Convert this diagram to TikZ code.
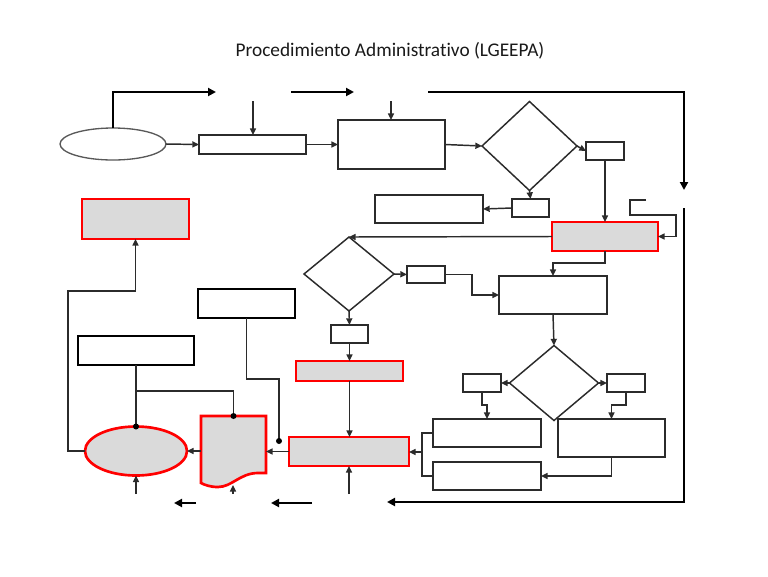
\documentclass[tikz,border=0pt]{standalone}
\usepackage{fontspec}
\setmainfont{Carlito}[Ligatures=NoCommon]
\usetikzlibrary{arrows.meta,shapes.geometric}
\definecolor{boxgray}{HTML}{DADADA}
\definecolor{lineblk}{HTML}{2B2B2B}
\newcommand\mkbox[6]{\node[#1,minimum width={(#4-#2)*0.75pt},minimum height={(#5-#3)*0.75pt}] (#6) at ({(#2+#4)/2},{(#3+#5)/2}) {};}
\begin{document}
\begin{tikzpicture}[x=0.75pt,y=-0.75pt,
  base/.style={inner sep=0pt,outer sep=0pt},
  box/.style={base,rectangle,draw=lineblk,line width=1.1pt,fill=white},
  thickbox/.style={base,rectangle,draw=black,line width=1.9pt,fill=white},
  redbox/.style={base,rectangle,draw=red,line width=2pt,fill=boxgray},
  dia/.style={base,diamond,draw=lineblk,line width=1.1pt,fill=white},
  ln/.style={draw=lineblk,line width=1.1pt},
  arr/.style={ln,-{Triangle[length=5pt,width=4.5pt]}},
  thk/.style={draw=black,line width=2.2pt,-{Triangle[length=6pt,width=6pt]}},
  dotst/.style={fill=black}]
\useasboundingbox (0,0) rectangle (768,576);
\node[base,font=\fontsize{14.5}{17}\selectfont,text=black!90] (title) at (390,51) {Procedimiento Administrativo (LGEEPA)};
% start ellipse
\node[base,ellipse,draw=black!65,line width=1pt,fill=white,minimum width={106*0.75pt},minimum height={32*0.75pt}] (start) at (113,144) {};
% boxes
\mkbox{box}{199}{135}{306}{154}{A}
\mkbox{box}{338}{120}{445}{169}{B}
\mkbox{box}{586}{142}{624}{160}{C}
\mkbox{box}{512}{199}{549}{217}{D}
\mkbox{box}{375}{195}{483}{223}{E}
\mkbox{redbox}{552}{222}{658}{251}{F}
\mkbox{box}{499}{276}{607}{314}{G}
\mkbox{box}{407}{266}{445}{283}{H}
\mkbox{box}{331}{325}{368}{343}{I}
\mkbox{redbox}{296}{361}{403}{381}{J}
\mkbox{redbox}{289}{437}{409}{466}{K}
\mkbox{box}{463}{374}{501}{392}{L}
\mkbox{box}{607}{374}{645}{392}{M}
\mkbox{box}{433}{419}{541}{447}{N}
\mkbox{box}{558}{419}{665}{457}{O}
\mkbox{box}{433}{462}{541}{490}{P}
\mkbox{thickbox}{78}{336}{194}{365}{S}
\mkbox{thickbox}{198}{289}{295}{318}{T}
\mkbox{redbox}{82}{199}{189}{239}{U}
\mkbox{base}{201}{416}{266}{483}{Q}
\node[base,ellipse,draw=red,line width=2pt,fill=boxgray,minimum width={102*0.75pt},minimum height={49*0.75pt}] (R) at (136,451) {};
% diamonds
\node[dia,minimum width={95*0.75pt},minimum height={89*0.75pt}] (d1) at (529.5,146) {};
\node[dia,minimum width={90*0.75pt},minimum height={74*0.75pt}] (d2) at (349,274) {};
\node[dia,minimum width={89*0.75pt},minimum height={75*0.75pt}] (d3) at (554,383) {};
% document shape
\draw[red,line width=2pt,fill=boxgray] (Q.north west) -- (Q.north east) -- (266,473) -- (258,473)
  .. controls (240,473) and (232,487) .. (218,487) .. controls (210,487) and (205,485) .. (Q.south west) -- cycle;
% free ends
\coordinate (t1) at (216,92);
\coordinate (t2s) at (291,92);
\coordinate (t2e) at (354,92);
\coordinate (t3s) at (428,92);
\coordinate (t3e) at (684,190);
\coordinate (a1) at (253,101);
\coordinate (a2) at (391,101);
\coordinate (r1) at (646,200);
\coordinate (r2) at (684,208);
\coordinate (r3) at (387,502);
\coordinate (b1) at (349,494);
\coordinate (b2) at (136,494);
\coordinate (b3) at (233,494);
\coordinate (qb) at (233,485);
\coordinate (brk) at (422,452);
\coordinate (tdot) at (279,441);
\coordinate (l1s) at (196,503);
\coordinate (l1e) at (174,503);
\coordinate (l2s) at (312,503);
\coordinate (l2e) at (271,503);
% top row
\draw[thk] (start.north) |- (t1);
\draw[thk] (t2s) -- (t2e);
\draw[thk] (t3s) -| (t3e);
\draw[arr] (a1) -- (a1 |- A.north);
\draw[arr] (a2) -- (a2 |- B.north);
\draw[arr] (start.east) -- (A.west);
\draw[arr] (A.east) -- (B.west);
\draw[arr] (B.east) -- (d1.west);
\draw[arr] (d1.east) -- (C.west);
\draw[arr] (d1.south) -- (D.north);
\draw[arr] (D.west) -- (E.east);
\draw[arr] (C.south) -- (C.south |- F.north);
\draw[arr] (r1) -- (630,200) -- (630,215) -- (676,215) |- (F.east);
\draw[thk] (r2) |- (r3);
% middle
\draw[arr] (F.west) -- (d2.north);
\draw[arr] (F.south) -- ++(0,12) -| (G.north);
\draw[arr] (d2.east) -- (H.west);
\draw[arr] (H.east) -- ++(27,0) |- (G.west);
\draw[arr] (d2.south) -- (I.north);
\draw[arr] (I.south) -- (I.south |- J.north);
\draw[arr] (I.south |- J.south) -- (I.south |- K.north);
\draw[arr] (b1) -- (K.south);
\draw[arr] (G.south) -- (d3.north);
\draw[arr] (d3.west) -- (L.east);
\draw[arr] (d3.east) -- (M.west);
\draw[arr] (L.south) -- ++(0,13) -| (N.north);
\draw[arr] (M.south) -- ++(0,13) -| (O.north);
\draw[arr] (O.south) |- (P.east);
\draw[ln] (N.west) -- ++(-11,0) |- (P.west);
\draw[arr] (brk) -- (brk -| K.east);
% bottom left
\draw[arr] (K.west) -- (K.west -| Q.east);
\draw[arr] (Q.west |- R.east) -- (R.east);
\draw[arr] (b2) -- (R.south);
\draw[arr] (b3) -- (qb);
\draw[ln] (S.south) -- (R.north);
\draw[ln] (S.south |- 0,391) -| (Q.north);
\fill[dotst] (R.north) circle[radius=3];
\fill[dotst] (Q.north) circle[radius=3];
\draw[ln] (T.south) -- ++(0,61) -| (tdot);
\fill[dotst] (tdot) circle[radius=3];
\draw[arr] (R.west) -- ++(-17,0) -- ++(0,-160) -| (U.south);
\draw[thk] (l1s) -- (l1e);
\draw[thk] (l2s) -- (l2e);
\end{tikzpicture}
\end{document}
